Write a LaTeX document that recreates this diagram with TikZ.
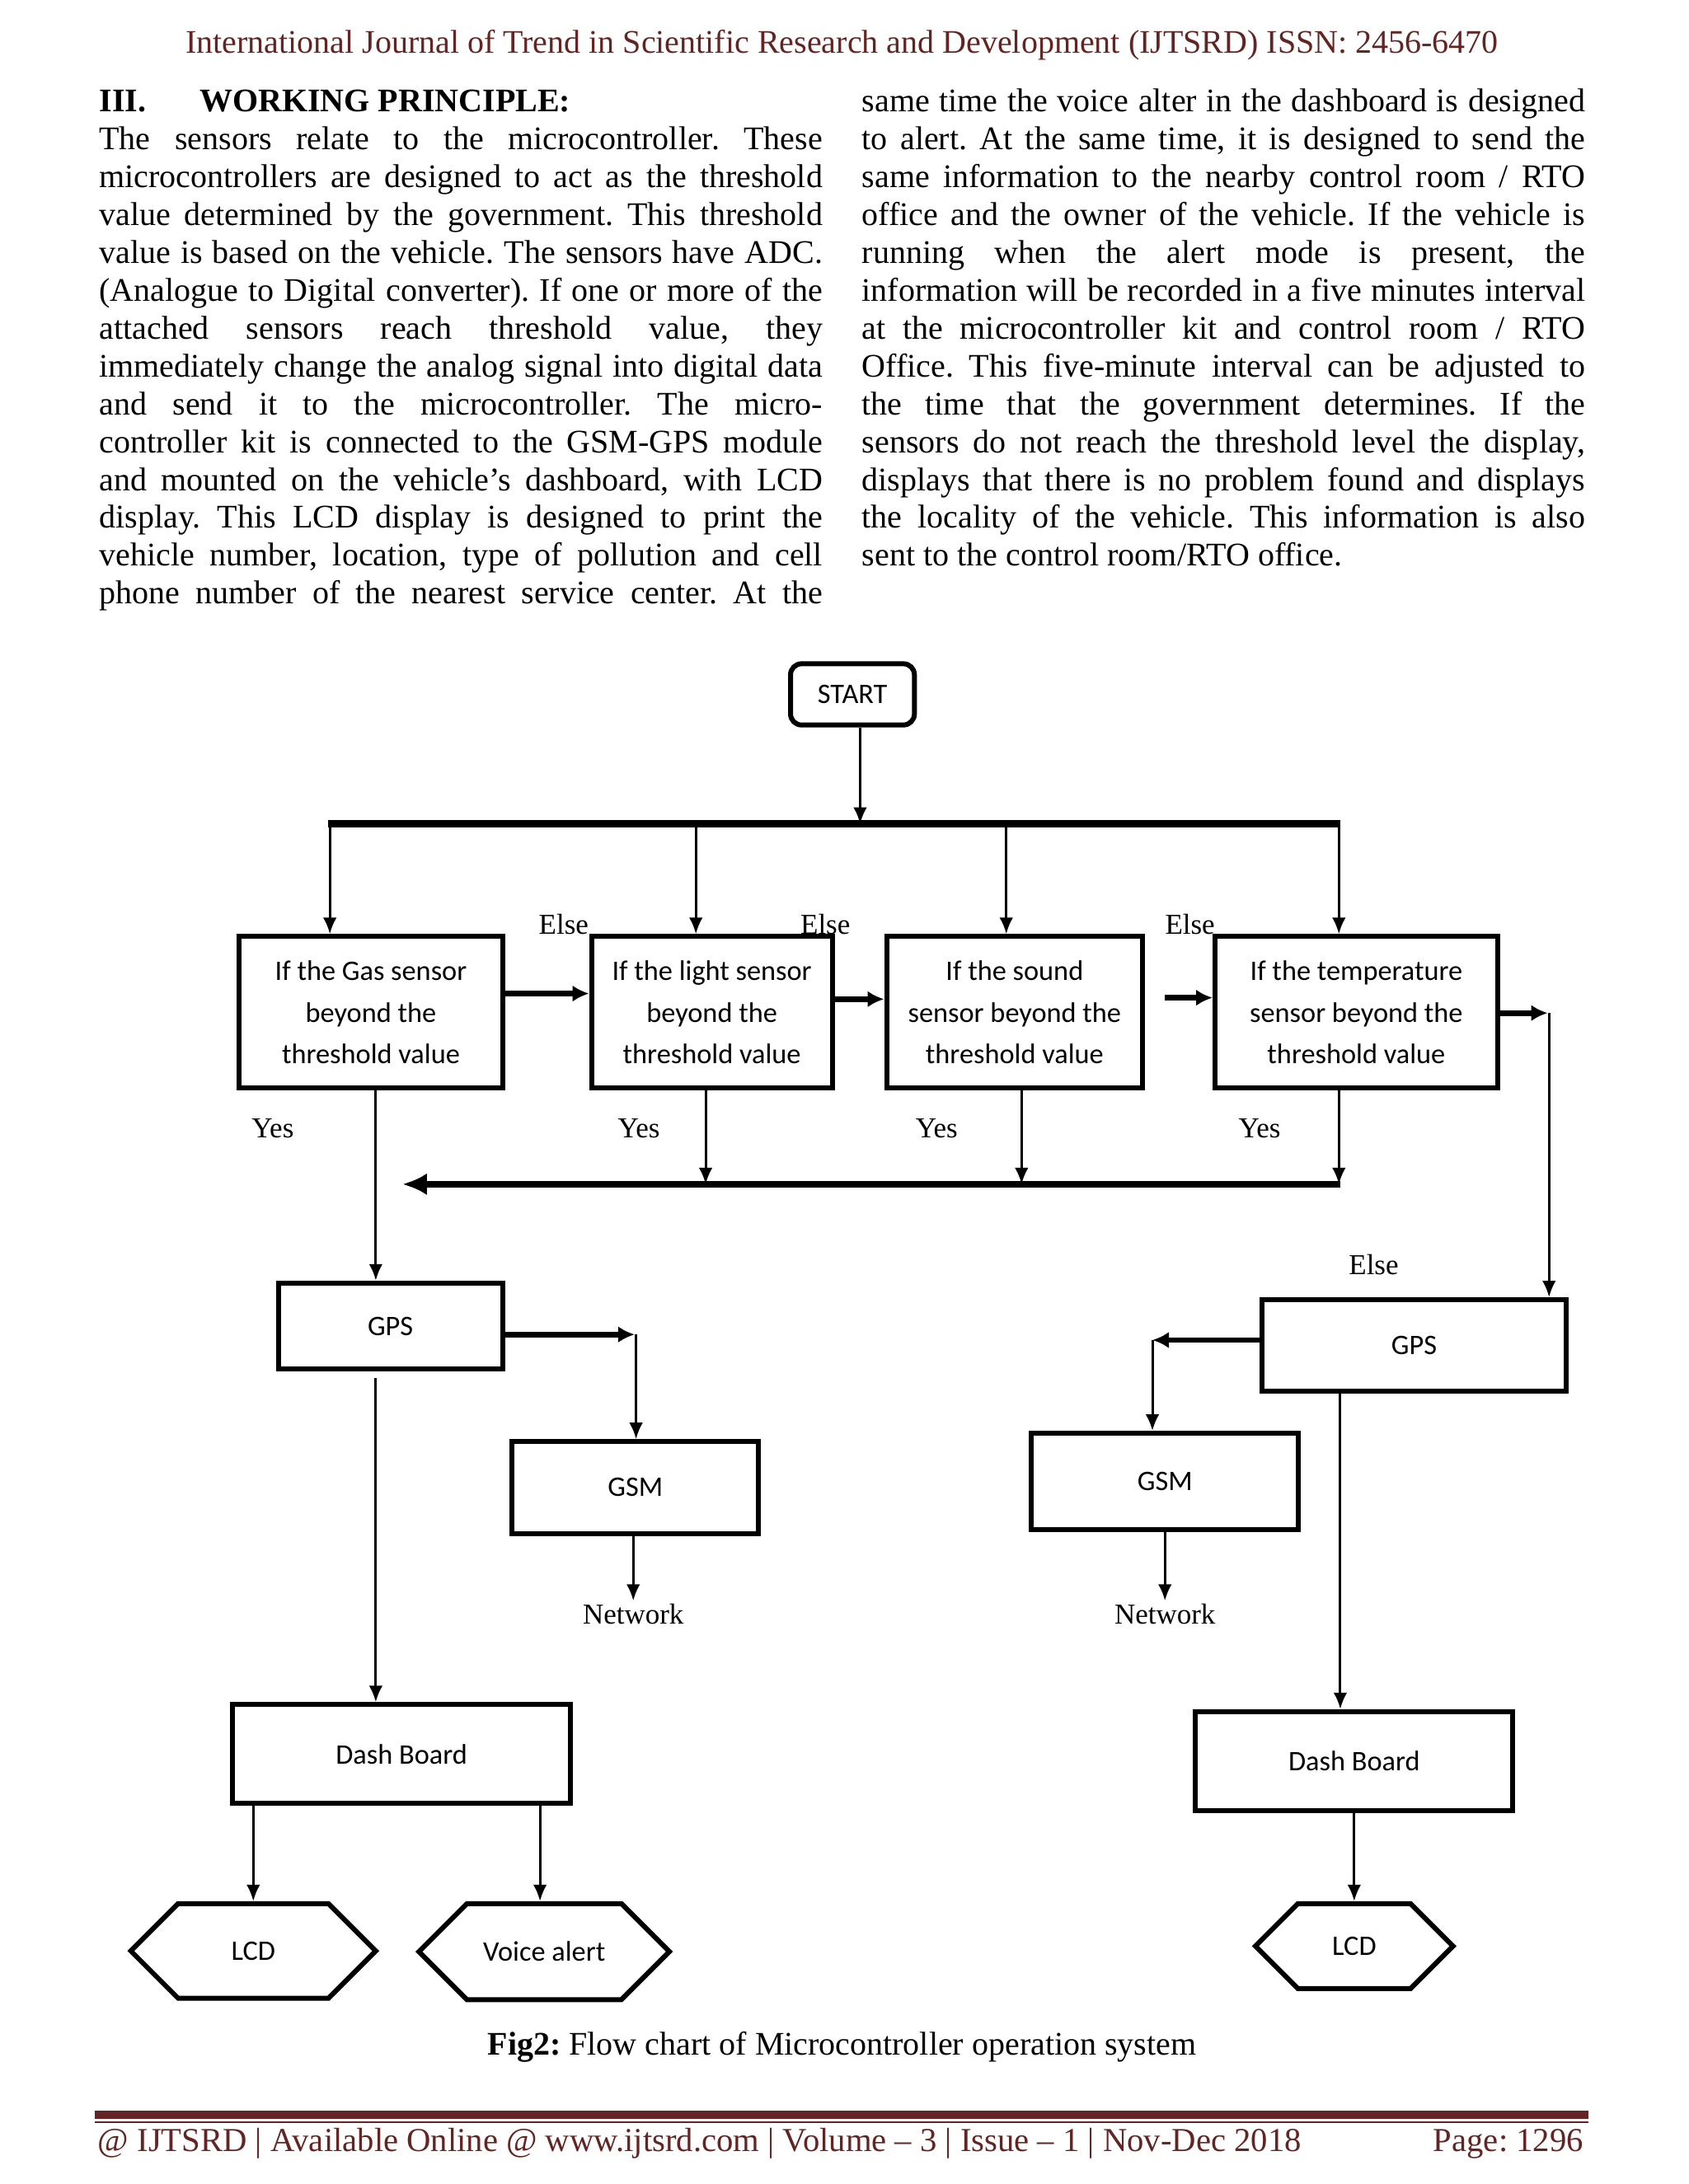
\documentclass[tikz,border=0pt]{standalone}
\usepackage{fontspec}
\setmainfont{Liberation Serif}
\newfontfamily\boxfont{Carlito}
\usetikzlibrary{shapes.symbols,calc,arrows.meta}
\definecolor{ijred}{RGB}{99,37,35}
\setlength{\parindent}{0pt}
\frenchspacing
\newcommand{\jl}[1]{\makebox[\linewidth][s]{\spaceskip=0.25em plus 1em minus 0.1em\relax #1}}
\def\pu{0.5065pt}

\begin{document}
\begin{tikzpicture}[x=0.5065pt,y=-0.5065pt]
    \tikzstyle{box}=[draw,rectangle,line width=1.8pt,inner sep=0pt,align=center,font=\boxfont\fontsize{10.3}{15.2}\selectfont]
    \tikzstyle{startbox}=[box,rounded corners=4pt,minimum width=89*\pu,minimum height=44*\pu]
    \tikzstyle{hexbox}=[box,signal,signal to=west and east,signal pointer angle=90]
    \tikzstyle{lbl}=[inner sep=1pt,font=\fontsize{10.5}{12}\selectfont]
    \tikzstyle{arr}=[-{Latex[length=6pt,width=5pt]},line width=0.9pt]
    \tikzstyle{fatarr}=[-{Latex[length=6pt,width=6pt]},line width=2pt]
    \tikzstyle{bus}=[line width=2.6pt]
    \tikzstyle{col}=[anchor=north west,inner sep=0pt,text width=263.2pt,align=justify,font=\fontsize{12}{13.78}\selectfont]
    \fill[white] (0,0) rectangle (1213,1569.5);
    \useasboundingbox (0,0) rectangle (1213,1569.5);

    % page text
    \node[anchor=base,text=ijred,font=\fontsize{12}{14}\selectfont] (head) at (605,38)
        {International Journal of Trend in Scientific Research and Development (IJTSRD) ISSN: 2456-6470};
    \node[col] (left) at (71,62.2) {\rule{0pt}{9pt}\makebox[36.5pt][l]{\textbf{III.}}\textbf{WORKING PRINCIPLE:}\\
        \jl{The sensors relate to the microcontroller. These}\\
        \jl{microcontrollers are designed to act as the threshold}\\
        \jl{value determined by the government. This threshold}\\
        \jl{value is based on the vehicle. The sensors have ADC.}\\
        \jl{(Analogue to Digital converter). If one or more of the}\\
        \jl{attached sensors reach threshold value, they}\\
        \jl{immediately change the analog signal into digital data}\\
        \jl{and send it to the microcontroller. The micro-}\\
        \jl{controller kit is connected to the GSM-GPS module}\\
        \jl{and mounted on the vehicle's dashboard, with LCD}\\
        \jl{display. This LCD display is designed to print the}\\
        \jl{vehicle number, location, type of pollution and cell}\\
        \jl{phone number of the nearest service center. At the}};
    \node[col] (right) at (619,62.2) {\rule{0pt}{9pt}\jl{same time the voice alter in the dashboard is designed}\\
        \jl{to alert. At the same time, it is designed to send the}\\
        \jl{same information to the nearby control room / RTO}\\
        \jl{office and the owner of the vehicle. If the vehicle is}\\
        \jl{running when the alert mode is present, the}\\
        \jl{information will be recorded in a five minutes interval}\\
        \jl{at the microcontroller kit and control room / RTO}\\
        \jl{Office. This five-minute interval can be adjusted to}\\
        \jl{the time that the government determines. If the}\\
        \jl{sensors do not reach the threshold level the display,}\\
        \jl{displays that there is no problem found and displays}\\
        \jl{the locality of the vehicle. This information is also}\\
        sent to the control room/RTO office.};

    % flow chart
    \node[startbox] (start) at (612.5,499) {START};
    \node[box,minimum width=189*\pu,minimum height=109*\pu] (gas) at (266.5,727.5) {If the Gas sensor\\beyond the\\threshold value};
    \node[box,minimum width=173*\pu,minimum height=109*\pu] (light) at (511.5,727.5) {If the light sensor\\beyond the\\threshold value};
    \node[box,minimum width=184*\pu,minimum height=109*\pu] (sound) at (729,727.5) {If the sound\\sensor beyond the\\threshold value};
    \node[box,minimum width=203*\pu,minimum height=109*\pu] (temp) at (974.5,727.5) {If the temperature\\sensor beyond the\\threshold value};
    \node[box,minimum width=161*\pu,minimum height=62*\pu] (gpsl) at (280.5,953) {GPS};
    \node[box,minimum width=177*\pu,minimum height=66*\pu] (gsml) at (456.5,1069) {GSM};
    \node[box,minimum width=243*\pu,minimum height=71*\pu] (dashl) at (288.5,1260.5) {Dash Board};
    \node[hexbox,minimum width=176*\pu,minimum height=68*\pu] (lcdl) at (182,1402) {LCD};
    \node[hexbox,minimum width=180*\pu,minimum height=69*\pu] (voice) at (391,1402.5) {Voice alert};
    \node[box,minimum width=218*\pu,minimum height=66*\pu] (gpsr) at (1016,967) {GPS};
    \node[box,minimum width=192*\pu,minimum height=69*\pu] (gsmr) at (837,1064.5) {GSM};
    \node[box,minimum width=228*\pu,minimum height=71*\pu] (dashr) at (973,1265.5) {Dash Board};
    \node[hexbox,minimum width=142*\pu,minimum height=61*\pu] (lcdr) at (973,1398.5) {LCD};
    \node[lbl] (netl) at (455,1160) {Network};
    \node[lbl] (netr) at (837,1160) {Network};

    \node[lbl] (else1) at (405,664) {Else};
    \node[lbl] (else2) at (593,664) {Else};
    \node[lbl] (else3) at (855,664) {Else};
    \node[lbl] (else4) at (987,909) {Else};
    \node[lbl] (yes1) at (196,811) {Yes};
    \node[lbl] (yes2) at (459,811) {Yes};
    \node[lbl] (yes3) at (673,811) {Yes};
    \node[lbl] (yes4) at (905,811) {Yes};

    % top bus
    \coordinate (busl) at (236,592);
    \coordinate (busr) at (963,592);
    \coordinate (sx) at (618,592);
    \coordinate (b2) at (500,592);
    \coordinate (b3) at (723,592);
    \coordinate (b4) at (962,592);
    \draw[bus] (busl) -- (busr);
    \draw[arr] (start.south -| sx) -- (sx);
    \draw[arr] ($(busl)+(1,0)$) -- (gas.north -| {$(busl)+(1,0)$});
    \draw[arr] (b2) -- (b2 |- light.north);
    \draw[arr] (b3) -- (b3 |- sound.north);
    \draw[arr] (b4) -- (b4 |- temp.north);

    % else chain
    \draw[fatarr] ($(gas.east)+(0,-13.5)$) -- ($(light.west)+(0,-13.5)$);
    \draw[fatarr] ($(light.east)+(0,-9.5)$) -- ($(sound.west)+(0,-9.5)$);
    \draw[fatarr] ($(sound.east)+(14,-10.5)$) -- ($(temp.west)+(0,-10.5)$);
    \coordinate (tr) at (1113,728);
    \draw[fatarr] (temp.east |- tr) -- ($(tr)+(-1,0)$);
    \draw[arr] (tr) -- (tr |- gpsr.north);

    % yes lines
    \coordinate (lowl) at (289,851);
    \coordinate (lowr) at (963,851);
    \coordinate (c1) at (270,851);
    \coordinate (c2) at (507,851);
    \coordinate (c3) at (734,851);
    \coordinate (c4) at (962,851);
    \draw[bus,-{Latex[length=9pt,width=8pt]}] (lowr) -- (lowl);
    \draw[arr] (gas.south -| c1) -- (gpsl.north -| c1);
    \draw[arr] (light.south -| c2) -- (c2);
    \draw[arr] (sound.south -| c3) -- (c3);
    \draw[arr] (temp.south -| c4) -- (c4);

    % left branch
    \coordinate (gl) at (457,959);
    \coordinate (dl) at (270,990);
    \draw[fatarr] (gpsl.east |- gl) -- ($(gl)+(-1,0)$);
    \draw[arr] (gl) -- (gl |- gsml.north);
    \draw[arr] (gsml.south -| netl) -- (netl.north);
    \draw[arr] (dl) -- (dl |- dashl.north);
    \draw[arr] (dashl.south -| lcdl) -- (lcdl.north);
    \draw[arr] ($(dashl.south -| voice)+(-3,0)$) -- ($(voice.north)+(-3,0)$);

    % right branch
    \coordinate (gr) at (828,963);
    \coordinate (dr) at (963,1000);
    \draw[fatarr] (gpsr.west |- gr) -- (gr);
    \draw[arr] (gr) -- (gr |- gsmr.north);
    \draw[arr] (gsmr.south -| netr) -- (netr.north);
    \draw[arr] (gpsr.south -| dr) -- (dashr.north -| dr);
    \draw[arr] (dashr.south) -- (lcdr.north);

    % caption and footer
    \node[anchor=base,font=\fontsize{12}{14}\selectfont] (cap) at (605,1477) {\textbf{Fig2:} Flow chart of Microcontroller operation system};
    \draw[ijred,line width=3pt] (68,1519.7) -- (1141,1519.7);
    \draw[ijred,line width=0.7pt] (68,1525.2) -- (1141,1525.2);
    \node[anchor=base west,inner sep=0pt,text=ijred,font=\fontsize{12.2}{14}\selectfont] (foot) at (70,1546)
        {@ IJTSRD | Available Online @ www.ijtsrd.com | Volume – 3 | Issue – 1 | Nov-Dec 2018};
    \node[anchor=base east,inner sep=0pt,text=ijred,font=\fontsize{12.2}{14}\selectfont] (page) at (1138,1546) {Page: 1296};
\end{tikzpicture}
\end{document}
